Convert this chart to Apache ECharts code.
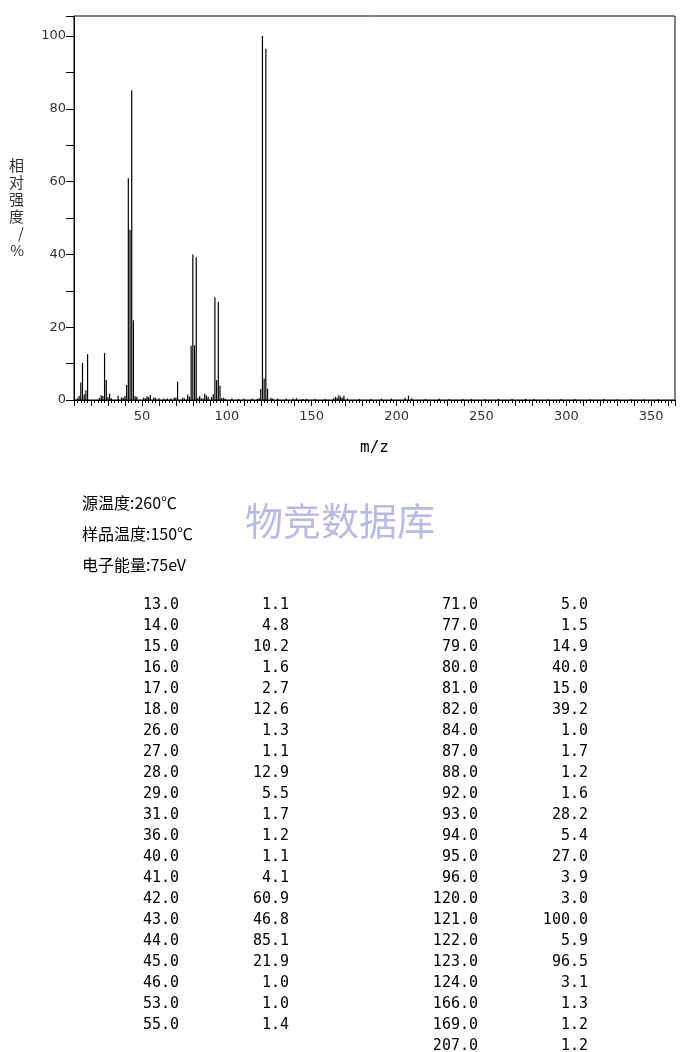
<!DOCTYPE html>
<html><head><meta charset="utf-8">
<script src="https://cdn.jsdelivr.net/npm/echarts@6/dist/echarts.min.js"></script>
<style>html,body{margin:0;padding:0;background:#fff}#c{width:687px;height:1052px}</style>
</head><body><div id="c"></div>
<script>
const mzLeft = [13,14,15,16,17,18,26,27,28,29,31,36,40,41,42,43,44,45,46,53,55];
const intLeft = [1.1,4.8,10.2,1.6,2.7,12.6,1.3,1.1,12.9,5.5,1.7,1.2,1.1,4.1,60.9,46.8,85.1,21.9,1.0,1.0,1.4];
const mzRight = [71,77,79,80,81,82,84,87,88,92,93,94,95,96,120,121,122,123,124,166,169,207];
const intRight = [5.0,1.5,14.9,40.0,15.0,39.2,1.0,1.7,1.2,1.6,28.2,5.4,27.0,3.9,3.0,100.0,5.9,96.5,3.1,1.3,1.2,1.2];
// small peaks (<1%)
const noiseMz = [12,25,30,32,38,39,47,51,52,54,57,58,60,63,65,67,69,70,74,75,78,83,85,86,89,91,97,98,99,103,107,110,115,118,119,126,127,130,135,139,141,145,147,152,158,163,164,165,167,168,171,178,185,191,197,205,209,217,225,231,239,244,252,260,268,276,281,289,297,305,314,322,330,338,346,354];
const noiseInt = [0.5,0.6,0.8,0.5,0.7,0.6,0.9,0.6,0.5,0.8,0.7,0.6,0.5,0.4,0.4,0.4,0.6,0.7,0.6,0.5,0.9,0.6,0.5,0.4,0.9,0.8,0.5,0.6,0.4,0.4,0.3,0.4,0.4,0.3,0.5,0.6,0.4,0.4,0.4,0.4,0.5,0.3,0.3,0.3,0.3,0.5,0.8,0.7,0.9,0.6,0.5,0.3,0.3,0.4,0.4,0.6,0.5,0.3,0.4,0.3,0.3,0.3,0.2,0.3,0.3,0.3,0.3,0.2,0.3,0.3,0.2,0.3,0.2,0.2,0.2,0.2];
const headerLines = ['源温度:260℃','样品温度:150℃','电子能量:75eV'];

const data = [];
mzLeft.forEach((m,i)=>data.push([m,intLeft[i]]));
mzRight.forEach((m,i)=>data.push([m,intRight[i]]));
noiseMz.forEach((m,i)=>data.push([m,noiseInt[i]]));

const font = '"DejaVu Sans Mono", monospace';
const graphics = [];
headerLines.forEach((t,i)=>graphics.push({type:'text',left:82,top:495+i*31,style:{text:t,font:'16px "Noto Sans CJK SC", sans-serif',fill:'#000'}}));
graphics.push({type:'text',left:245,top:502,style:{text:'物竞数据库',font:'38px "Noto Sans CJK SC", sans-serif',fill:'rgba(130,130,210,0.55)'}});
function col(mzs,vals,xm,xv){
  mzs.forEach((m,i)=>{
    const y=605+i*21;
    graphics.push({type:'text',x:xm,y:y,style:{text:m.toFixed(1),font:'15px '+font,fill:'#000',align:'right',verticalAlign:'middle'}});
    graphics.push({type:'text',x:xv,y:y,style:{text:vals[i].toFixed(1),font:'15px '+font,fill:'#000',align:'right',verticalAlign:'middle'}});
  });
}
col(mzLeft,intLeft,179,289);
col(mzRight,intRight,478,588);

const chart = echarts.init(document.getElementById('c'));
chart.setOption({
  animation:false,
  grid:{left:74,top:16,width:601,height:384,show:true,borderColor:'#000',borderWidth:1},
  xAxis:{type:'value',min:10,max:364,interval:10,
    name:'m/z',nameLocation:'middle',nameGap:40,nameTextStyle:{fontSize:16,color:'#000',fontFamily:font},
    axisLine:{lineStyle:{color:'#000'}},
    axisTick:{show:true,length:6,lineStyle:{color:'#000'}},
    minorTick:{show:true,splitNumber:5,length:3,lineStyle:{color:'#000'}},
    splitLine:{show:false},
    axisLabel:{color:'#333',fontSize:13,margin:10,showMaxLabel:false,fontFamily:'DejaVu Sans',formatter:v=>(v%50===0?String(v):'')}},
  yAxis:{type:'value',min:0,max:105.5,interval:10,
    name:'相\n对\n强\n度\n/\n%',nameLocation:'middle',nameGap:50,nameRotate:0,
    nameTextStyle:{fontSize:15,color:'#333',lineHeight:17,fontFamily:'"Noto Sans CJK SC"'},
    axisLine:{lineStyle:{color:'#000'}},
    axisTick:{show:true,length:8,inside:false,lineStyle:{color:'#000'}},
    splitLine:{show:false},
    axisLabel:{color:'#333',fontSize:13,fontFamily:'DejaVu Sans',formatter:v=>(v%20===0?String(v):'')}},
  series:[{type:'bar',data:data,barWidth:1.2,itemStyle:{color:'#000'},silent:true}],
  graphic:graphics
});
</script></body></html>
